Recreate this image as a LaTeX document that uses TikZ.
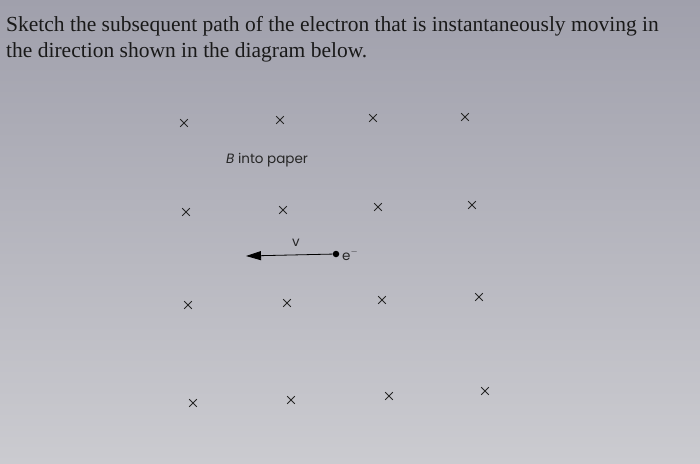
\documentclass[tikz,border=0pt]{standalone}
\usepackage{fontspec}
\setmainfont{Liberation Serif}
\newfontfamily\diagfont{Poppins}
\usetikzlibrary{arrows.meta}
\begin{document}
\begin{tikzpicture}[x=1pt,y=-1pt,
  crossmark/.style={line width=0.9pt, draw=black!85},
  dlabel/.style={font=\diagfont\fontsize{13.5}{15}\selectfont, text=black!85, inner sep=0pt},
  title/.style={font=\fontsize{21.5}{23}\selectfont, text=black!90, anchor=base west, inner sep=0pt}]
\useasboundingbox (0,0) rectangle (700,463);
\shade[top color={rgb,255:red,160;green,160;blue,172}, bottom color={rgb,255:red,203;green,203;blue,208}] (0,0) rectangle (700,463);
\node[title] (t1) at (6,31) {Sketch the subsequent path of the electron that is instantaneously moving in};
\node[title] (t2) at (6,57) {the direction shown in the diagram below.};
\foreach \x/\y [count=\i] in {184/123,280/120,373/118,465/117,
  186/212,283/210,378/207,472/205,
  188/305,287/303,382/300,479/297,
  193/403,291/400,389/396,485/391}{
  \coordinate (c\i) at (\x,\y);
  \draw[crossmark] ([shift={(-3.8,-3.8)}]c\i) -- ([shift={(3.8,3.8)}]c\i)
                   ([shift={(-3.8,3.8)}]c\i) -- ([shift={(3.8,-3.8)}]c\i);
}
\node[dlabel, anchor=west] (B) at (226,160) {\textit{B} into paper};
\node[circle, fill=black, inner sep=0pt, minimum size=6.5pt] (e) at (336,254) {};
\coordinate (tip) at (246,256);
\draw[line width=0.8pt, -{Triangle[length=15pt,width=9pt]}] (e) -- (tip);
\node[dlabel] (v) at (296,243) {v};
\node[dlabel, anchor=west] (el) at (342,255) {e$^{-}$};
\end{tikzpicture}
\end{document}
